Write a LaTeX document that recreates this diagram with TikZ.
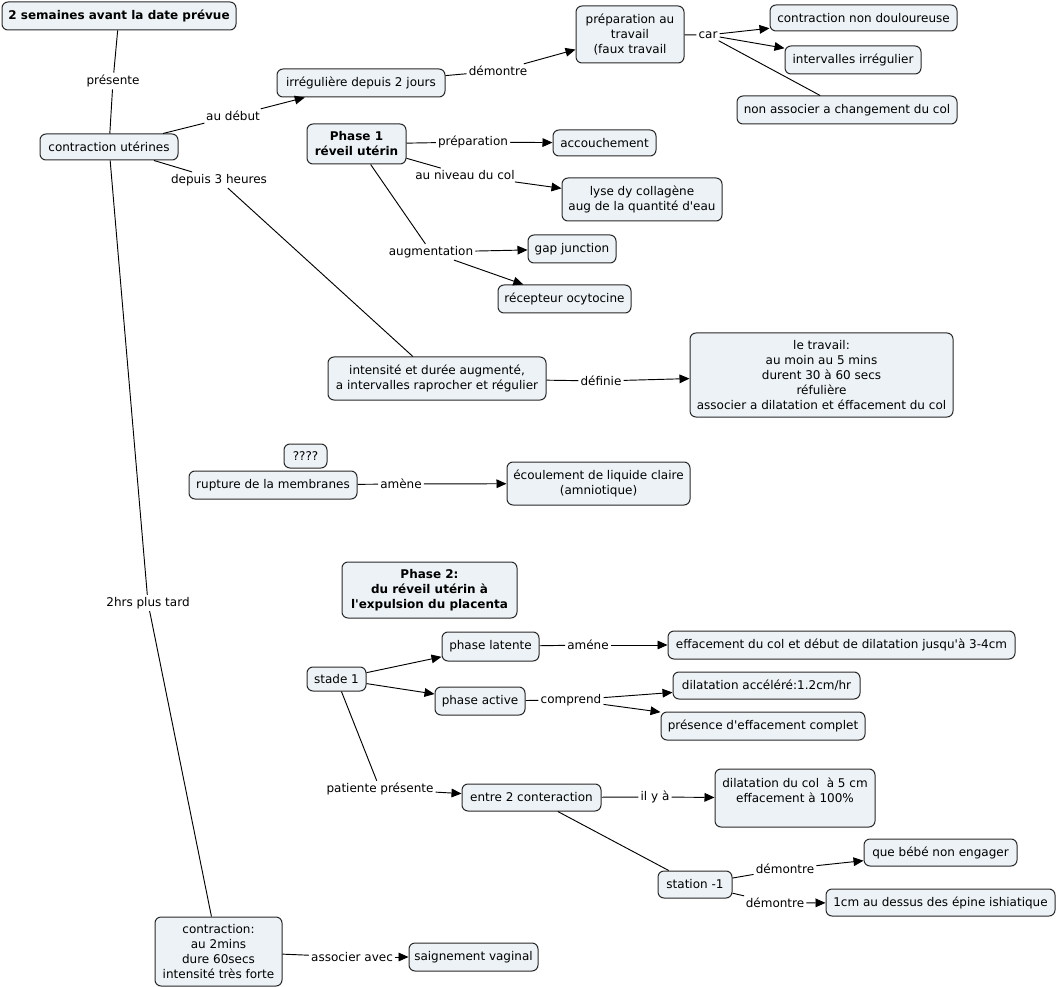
\documentclass[tikz,border=0pt]{standalone}
\usepackage{fontspec}
\setmainfont{DejaVu Sans}
\usetikzlibrary{arrows.meta}
\definecolor{boxfill}{RGB}{236,242,245}
\definecolor{boxline}{RGB}{40,40,40}
\newcommand{\aq}{\textquotesingle}
\begin{document}
\begin{tikzpicture}[x=0.75pt,y=-0.75pt,
  font=\fontsize{9}{11.25}\selectfont,
  box/.style={draw=boxline, fill=boxfill, rounded corners=4.5pt, line width=0.75pt, align=center, inner sep=0pt},
  sz/.style 2 args={minimum width=#1*0.75pt, minimum height=#2*0.75pt},
  bf/.style={font=\fontsize{9}{11.25}\selectfont\bfseries},
  lbl/.style={inner sep=1.5pt, align=center},
  ln/.style={line width=0.7pt},
  arr/.style={ln, -{Triangle[length=7.5pt,width=6.5pt]}},
]
\useasboundingbox (0,0) rectangle (1056,987);
% boxes
\node[box,sz={234}{28},bf] (top) at (119,16) {2 semaines avant la date prévue};
\node[box,sz={138}{26}] (cu) at (109,147) {contraction utérines};
\node[box,sz={168}{28}] (irr) at (361,83) {irrégulière depuis 2 jours};
\node[box,sz={108}{57}] (prep) at (630,34.5) {préparation au\\travail\\(faux travail};
\node[box,sz={187}{26}] (cnd) at (863.5,18) {contraction non douloureuse};
\node[box,sz={136}{28}] (ii) at (853,60) {intervalles irrégulier};
\node[box,sz={220}{28}] (nac) at (847,110) {non associer a changement du col};
\node[box,sz={99}{40},bf] (ph1) at (356.5,144) {Phase 1\\réveil utérin};
\node[box,sz={103}{26}] (acc) at (604.5,143) {accouchement};
\node[box,sz={160}{43}] (lyse) at (642,199.5) {lyse dy collagène\\aug de la quantité d\aq eau};
\node[box,sz={88}{28}] (gap) at (572,249) {gap junction};
\node[box,sz={133}{28}] (rec) at (564.5,299) {récepteur ocytocine};
\node[box,sz={218}{43}] (int) at (437,378.5) {intensité et durée augmenté,\\a intervalles raprocher et régulier};
\node[box,sz={263}{84}] (trav) at (821.5,375) {le travail:\\au moin au 5 mins\\durent 30 à 60 secs\\réfulière\\associer a dilatation et éffacement du col};
\node[box,sz={43}{24}] (q) at (305.5,456) {????};
\node[box,sz={168}{28}] (rup) at (273,485) {rupture de la membranes};
\node[box,sz={183}{43}] (ecou) at (598.5,483.5) {écoulement de liquide claire\\(amniotique)};
\node[box,sz={175}{56},bf] (ph2) at (429.5,590) {Phase 2:\\du réveil utérin à\\l\aq expulsion du placenta};
\node[box,sz={97}{29}] (lat) at (490.5,646.5) {phase latente};
\node[box,sz={347}{28}] (eff) at (841.5,645) {effacement du col et début de dilatation jusqu\aq à 3-4cm};
\node[box,sz={59}{24}] (st1) at (336.5,679) {stade 1};
\node[box,sz={90}{28}] (act) at (480,701) {phase active};
\node[box,sz={187}{27}] (dil) at (766.5,685.5) {dilatation accéléré:1.2cm/hr};
\node[box,sz={204}{28}] (pres) at (763,726) {présence d\aq effacement complet};
\node[box,sz={139}{27}] (e2c) at (531.5,797.5) {entre 2 conteraction};
\node[box,sz={160}{58}] (dcol) at (795,798) {dilatation du col\ \ à 5 cm\\effacement à 100\%\\~};
\node[box,sz={74}{27}] (stm) at (695,884.5) {station -1};
\node[box,sz={153}{27}] (bebe) at (940.5,852.5) {que bébé non engager};
\node[box,sz={229}{27}] (cm1) at (940.5,902.5) {1cm au dessus des épine ishiatique};
\node[box,sz={127}{69}] (c2) at (218.5,951.5) {contraction:\\au 2mins\\dure 60secs\\intensité très forte};
\node[box,sz={129}{28}] (sv) at (473.5,957) {saignement vaginal};
% linking phrases
\node[lbl] (l1) at (113,81) {présente};
\node[lbl] (l2) at (233,116) {au début};
\node[lbl] (l3) at (219,180) {depuis 3 heures};
\node[lbl] (l4) at (148,603) {2hrs plus tard};
\node[lbl] (l5) at (498,71) {démontre};
\node[lbl] (l6) at (708,35) {car};
\node[lbl] (l7) at (473,142) {préparation};
\node[lbl] (l8) at (465,175) {au niveau du col};
\node[lbl] (l9) at (431,252) {augmentation};
\node[lbl] (l10) at (601,381) {définie};
\node[lbl] (l11) at (401,484) {amène};
\node[lbl] (l12) at (588,645) {améne};
\node[lbl] (l13) at (571,700) {comprend};
\node[lbl] (l14) at (380,789) {patiente présente};
\node[lbl] (l15) at (655,797) {il y à};
\node[lbl] (l16) at (785,869) {démontre};
\node[lbl] (l17) at (775,903) {démontre};
\node[lbl] (l18) at (352,957) {associer avec};
% connectors
\draw[ln] (top) -- (l1); \draw[ln] (l1) -- (cu);
\draw[ln] (cu) -- (l2); \draw[arr] (l2) -- (irr);
\draw[ln] (cu) -- (l3); \draw[ln] (l3) -- (int);
\draw[ln] (cu) -- (l4); \draw[ln] (l4) -- (c2);
\draw[ln] (irr) -- (l5); \draw[arr] (l5) -- (prep);
\draw[ln] (prep) -- (l6); \draw[arr] (l6) -- (cnd); \draw[arr] (l6) -- (ii); \draw[ln] (l6) -- (nac);
\draw[ln] (ph1) -- (l7); \draw[arr] (l7) -- (acc);
\draw[ln] (ph1) -- (l8); \draw[arr] (l8) -- (lyse);
\draw[ln] (ph1) -- (l9); \draw[arr] (l9) -- (gap); \draw[arr] (l9) -- (rec);
\draw[ln] (int) -- (l10); \draw[arr] (l10) -- (trav);
\draw[ln] (rup) -- (l11); \draw[arr] (l11) -- (ecou);
\draw[arr] (st1) -- (lat); \draw[arr] (st1) -- (act);
\draw[ln] (lat) -- (l12); \draw[arr] (l12) -- (eff);
\draw[ln] (act) -- (l13); \draw[arr] (l13) -- (dil); \draw[arr] (l13) -- (pres);
\draw[ln] (st1) -- (l14); \draw[arr] (l14) -- (e2c);
\draw[ln] (e2c) -- (l15); \draw[arr] (l15) -- (dcol);
\draw[ln] (e2c) -- (stm);
\draw[ln] (stm) -- (l16); \draw[arr] (l16) -- (bebe);
\draw[ln] (stm) -- (l17); \draw[arr] (l17) -- (cm1);
\draw[ln] (c2) -- (l18); \draw[arr] (l18) -- (sv);
\end{tikzpicture}
\end{document}
